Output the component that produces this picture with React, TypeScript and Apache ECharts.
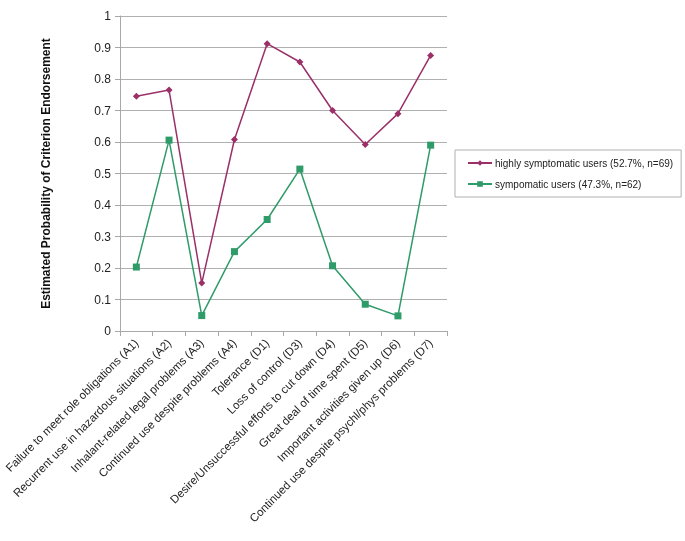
import React, { useEffect, useRef } from "react";
import * as echarts from "echarts";

const categories = [
  "Failure to meet role obligations (A1)",
  "Recurrent use in hazardous situations (A2)",
  "Inhalant-related legal problems (A3)",
  "Continued use despite problems (A4)",
  "Tolerance (D1)",
  "Loss of control (D3)",
  "Desire/Unsuccessful efforts to cut down (D4)",
  "Great deal of time spent (D5)",
  "Important activities given up (D6)",
  "Continued use despite psychl/phys problems (D7)",
];
const highlySymptomatic = [0.745, 0.765, 0.152, 0.608, 0.912, 0.854, 0.700, 0.592, 0.690, 0.875];
const symptomatic = [0.203, 0.606, 0.049, 0.252, 0.354, 0.514, 0.207, 0.085, 0.048, 0.590];
const seriesNames = ["highly symptomatic users (52.7%, n=69)", "sympomatic users (47.3%, n=62)"];
const yAxisTitle = "Estimated Probability of Criterion Endorsement";

export default function App() {
  const ref = useRef<HTMLDivElement>(null);
  useEffect(() => {
    const chart = echarts.init(ref.current!, null, { renderer: "svg" });
    const font = "'Liberation Sans', Arial, sans-serif";
    chart.setOption({
      animation: false,
      textStyle: { fontFamily: font },
      grid: { left: 120, right: 238, top: 16, bottom: 210, containLabel: false },
      legend: {
        orient: "vertical",
        left: 455,
        top: 150,
        itemGap: 11,
        itemWidth: 24,
        itemHeight: 7,
        padding: [8, 8, 8, 12],
        borderColor: "#b0b0b0",
        borderWidth: 1,
        textStyle: { fontSize: 10, color: "#222", fontFamily: font, padding: [0, 0, 0, -2] },
        data: seriesNames,
      },
      xAxis: {
        type: "category",
        data: categories,
        boundaryGap: true,
        axisLine: { lineStyle: { color: "#a8a8a8" } },
        axisTick: { show: true, alignWithLabel: false, length: 5, lineStyle: { color: "#a8a8a8" } },
        axisLabel: { rotate: 45, interval: 0, fontSize: 11.5, color: "#222", margin: 10, fontFamily: font },
      },
      yAxis: {
        type: "value",
        min: 0,
        max: 1,
        interval: 0.1,
        name: yAxisTitle,
        nameLocation: "middle",
        nameGap: 68,
        nameTextStyle: { fontWeight: "bold", fontSize: 12, color: "#111", fontFamily: font },
        axisLine: { show: true, lineStyle: { color: "#a8a8a8" } },
        axisTick: { show: true, length: 5, lineStyle: { color: "#a8a8a8" } },
        axisLabel: {
          fontSize: 12,
          color: "#222",
          margin: 9,
          fontFamily: font,
          formatter: (v: number) => String(Math.round(v * 10) / 10),
        },
        splitLine: { lineStyle: { color: "#b0b0b0" } },
      },
      series: [
        {
          name: seriesNames[0],
          type: "line",
          data: highlySymptomatic,
          symbol: "diamond",
          symbolSize: 7,
          lineStyle: { color: "#9b3068", width: 1.5 },
          itemStyle: { color: "#9b3068" },
        },
        {
          name: seriesNames[1],
          type: "line",
          data: symptomatic,
          symbol: "rect",
          symbolSize: 7,
          lineStyle: { color: "#2e9b69", width: 1.5 },
          itemStyle: { color: "#2e9b69" },
        },
      ],
    });
    return () => chart.dispose();
  }, []);
  return (
    <div
      ref={ref}
      style={{ position: "fixed", left: 0, top: 0, width: 685, height: 541 }}
    />
  );
}
